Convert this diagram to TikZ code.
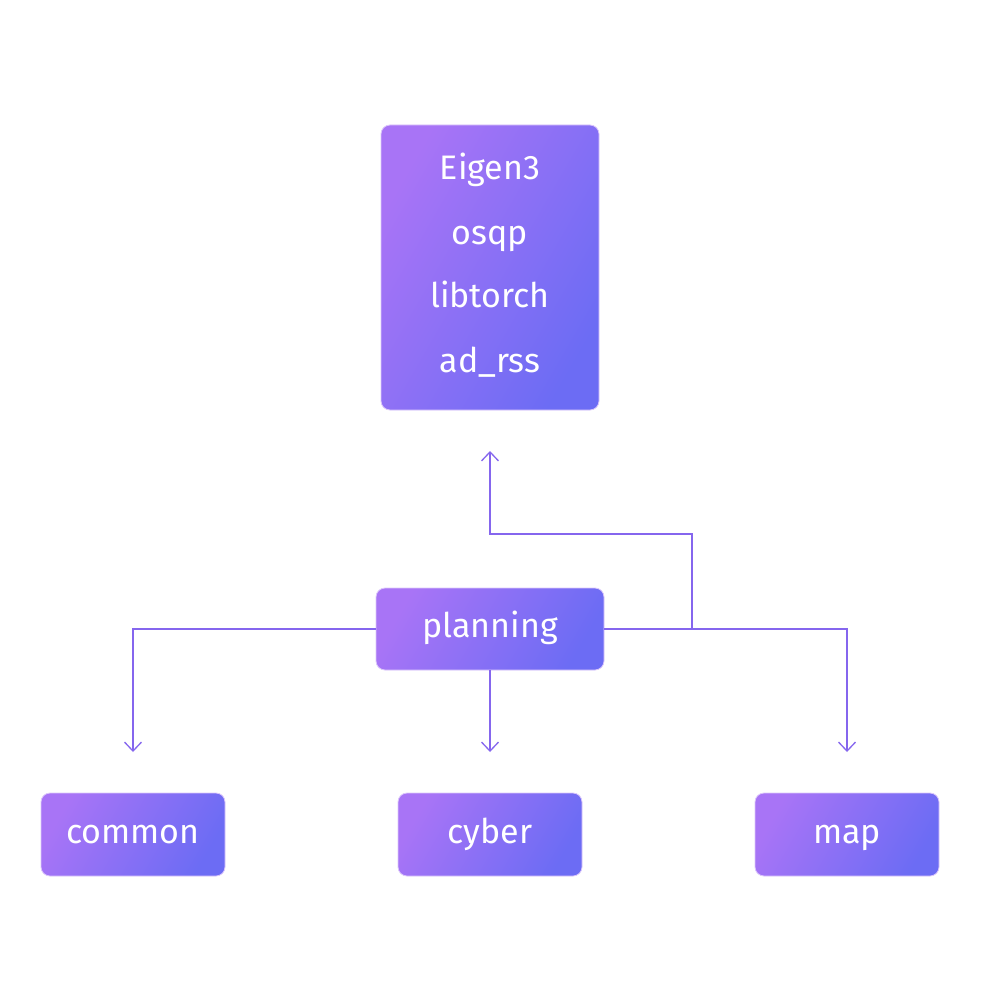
\documentclass[tikz,border=0pt]{standalone}
\usepackage{fontspec}
\setmainfont{Fira Sans}
\usetikzlibrary{arrows.meta}
\definecolor{ca}{HTML}{A874F6}
\definecolor{cb}{HTML}{6C6CF4}
\definecolor{ln}{HTML}{8566EE}
\tikzset{
 box/.style={draw=ca!40, line width=0.8pt, rounded corners=9pt, left color=cb, right color=ca, shading angle=-120,
   text=white, font=\fontsize{34}{40}\selectfont, align=center, inner sep=0pt},
 lab/.style={text=white, font=\fontsize{34}{40}\selectfont, text height=24pt, text depth=7pt, inner sep=0pt}
}
\tikzset{conn/.style={draw=ln, line width=1.3pt, -{Straight Barb[length=9pt,width=17pt,line width=1.3pt]}}}
\begin{document}
\begin{tikzpicture}[x=1pt,y=-1pt]
\fill[white] (0,0) rectangle (980,1000);
\useasboundingbox (0,0) rectangle (980,1000);
\node[box, minimum width=218pt, minimum height=285pt] (top) at (490,267.5) {};
\node[lab] (t1) at (490,171) {Eigen3};
\node[lab] (t2) at (490,236) {osqp};
\node[lab] (t3) at (490,299) {libtorch};
\node[lab] (t4) at (490,364) {ad\_rss};
\node[box, minimum width=228pt, minimum height=82pt] (pl) at (490,629) {};
\node[lab] at (pl.center) {planning};
\node[box, minimum width=184pt, minimum height=83pt] (co) at (133,834.5) {};
\node[lab] at (co.center) {common};
\node[box, minimum width=184pt, minimum height=83pt] (cy) at (490,834.5) {};
\node[lab] at (cy.center) {cyber};
\node[box, minimum width=184pt, minimum height=83pt] (ma) at (847,834.5) {};
\node[lab] at (ma.center) {map};
\coordinate (ca) at (133,752);
\coordinate (cya) at (490,752);
\coordinate (maa) at (847,752);
\coordinate (tpa) at (490,451);
\coordinate (j) at (692,629);
\draw[conn] (pl.west) -| (ca);
\draw[conn] (pl.south) -- (cya);
\draw[conn] (pl.east) -| (maa);
\draw[conn] (j) |- (590,534) -| (tpa);
\end{tikzpicture}
\end{document}
